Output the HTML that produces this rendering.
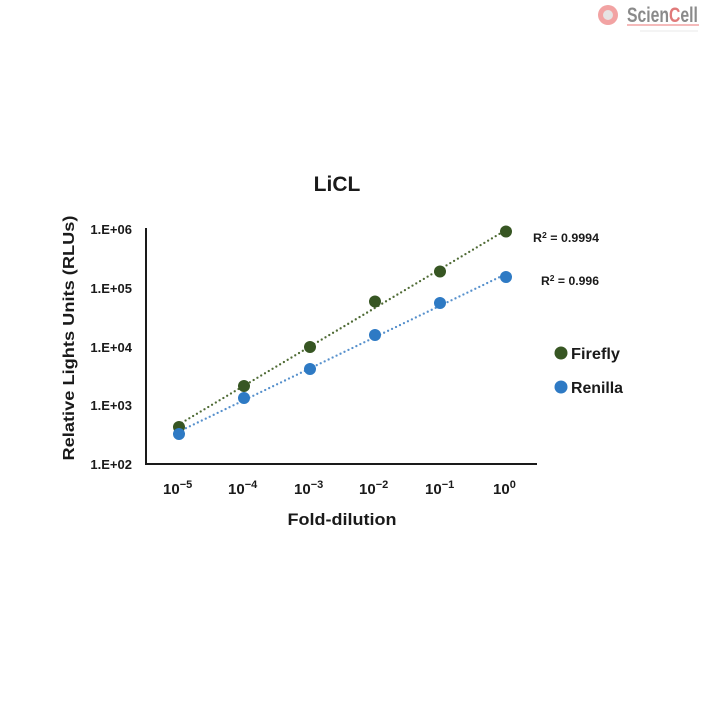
<!DOCTYPE html>
<html><head><meta charset="utf-8"><style>
html,body{margin:0;padding:0;background:#fff;}
svg{display:block;}
text{font-family:"Liberation Sans",sans-serif;font-weight:bold;fill:#1a1a1a;}
</style></head><body>
<svg width="704" height="704" viewBox="0 0 704 704" xmlns="http://www.w3.org/2000/svg">
<rect width="704" height="704" fill="#fff"/>
<!-- logo -->
<circle cx="608" cy="15" r="10" fill="#f2a3a3"/>
<circle cx="608" cy="15" r="5" fill="#e6e3e3"/>
<text transform="translate(627,22) scale(0.75,1)" font-size="21" style="fill:#8a8a8a">Scien<tspan style="fill:#e07a7a">C</tspan>ell</text>
<line x1="627" y1="25" x2="699" y2="25" stroke="#f2a3a3" stroke-width="1.5"/>
<line x1="640" y1="31" x2="698" y2="31" stroke="#e8e8e8" stroke-width="1"/>

<!-- title -->
<text x="337" y="191" font-size="21" text-anchor="middle">LiCL</text>

<!-- axes -->
<line x1="146" y1="228" x2="146" y2="464" stroke="#1a1a1a" stroke-width="2"/>
<line x1="145" y1="464" x2="537" y2="464" stroke="#1a1a1a" stroke-width="2"/>

<!-- y tick labels -->
<g font-size="13" text-anchor="end">
<text x="132" y="234">1.E+06</text>
<text x="132" y="293">1.E+05</text>
<text x="132" y="352">1.E+04</text>
<text x="132" y="410">1.E+03</text>
<text x="132" y="469">1.E+02</text>
</g>
<text transform="translate(74,338) rotate(-90)" font-size="16" text-anchor="middle" textLength="245" lengthAdjust="spacingAndGlyphs">Relative Lights Units (RLUs)</text>

<!-- x tick labels -->
<g font-size="15">
<text x="163" y="494">10<tspan font-size="11" dy="-6">−5</tspan></text>
<text x="228" y="494">10<tspan font-size="11" dy="-6">−4</tspan></text>
<text x="294" y="494">10<tspan font-size="11" dy="-6">−3</tspan></text>
<text x="359" y="494">10<tspan font-size="11" dy="-6">−2</tspan></text>
<text x="425" y="494">10<tspan font-size="11" dy="-6">−1</tspan></text>
<text x="493" y="494">10<tspan font-size="11" dy="-6">0</tspan></text>
</g>
<text x="342" y="525" font-size="17" text-anchor="middle" textLength="109" lengthAdjust="spacingAndGlyphs">Fold-dilution</text>

<!-- trendlines -->
<line x1="178" y1="425" x2="506" y2="230" stroke="#4f6b35" stroke-width="2.3" stroke-linecap="round" stroke-dasharray="0 4.4"/>
<line x1="178" y1="432" x2="506" y2="274" stroke="#5690cc" stroke-width="2.3" stroke-linecap="round" stroke-dasharray="0 4.4"/>

<!-- Firefly points -->
<g fill="#375623">
<circle cx="179" cy="427" r="6"/>
<circle cx="244" cy="386" r="6"/>
<circle cx="310" cy="347" r="6"/>
<circle cx="375" cy="301.5" r="6"/>
<circle cx="440" cy="271.5" r="6"/>
<circle cx="506" cy="231.5" r="6"/>
</g>
<!-- Renilla points -->
<g fill="#2e7ac4">
<circle cx="179" cy="434" r="6"/>
<circle cx="244" cy="398" r="6"/>
<circle cx="310" cy="369" r="6"/>
<circle cx="375" cy="335" r="6"/>
<circle cx="440" cy="303" r="6"/>
<circle cx="506" cy="277" r="6"/>
</g>

<!-- R2 labels -->
<text x="533" y="242" font-size="11.5" textLength="66" lengthAdjust="spacingAndGlyphs">R<tspan font-size="8" dy="-4">2</tspan><tspan dy="4"> = 0.9994</tspan></text>
<text x="541" y="285" font-size="11.5" textLength="58" lengthAdjust="spacingAndGlyphs">R<tspan font-size="8" dy="-4">2</tspan><tspan dy="4"> = 0.996</tspan></text>

<!-- legend -->
<circle cx="561" cy="353" r="6.5" fill="#375623"/>
<text x="571" y="359" font-size="16" textLength="49" lengthAdjust="spacingAndGlyphs">Firefly</text>
<circle cx="561" cy="387" r="6.5" fill="#2e7ac4"/>
<text x="571" y="393" font-size="16" textLength="52" lengthAdjust="spacingAndGlyphs">Renilla</text>
</svg>
</body></html>
